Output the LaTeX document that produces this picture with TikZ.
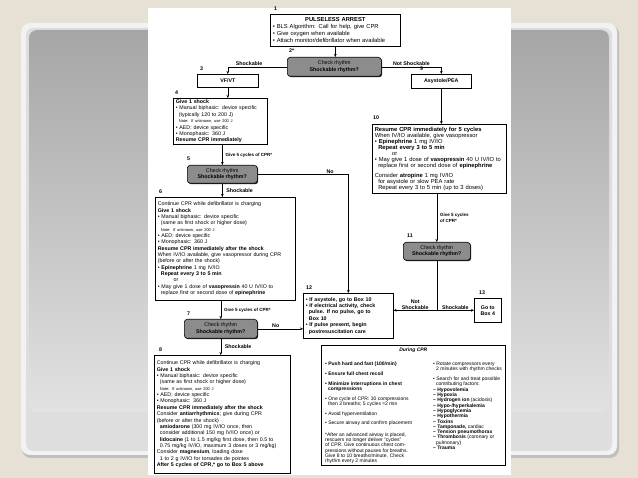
\documentclass[tikz,border=0pt]{standalone}
\usepackage{fontspec}
\setmainfont{Liberation Sans}
\usetikzlibrary{arrows.meta,shadows,calc}
\definecolor{beige}{RGB}{230,224,213}
\definecolor{gtop}{RGB}{166,166,166}
\definecolor{gbot}{RGB}{226,226,226}
\definecolor{band}{RGB}{222,222,222}
\definecolor{rhythm}{RGB}{140,140,140}
\newcommand\fsa{\fontsize{5.8}{7}\selectfont}
\newcommand\fsb{\fontsize{5.3}{6.35}\selectfont}
\newcommand\fsc{\fontsize{5.8}{6}\selectfont}
\newcommand\fsd{\fontsize{5}{5.3}\selectfont}
\newcommand\fsn{\fontsize{4}{5}\selectfont}
\newcommand\fsl{\fontsize{5.3}{6}\selectfont\bfseries}
\newcommand\fsg{\fontsize{4.5}{5.4}\selectfont\bfseries}
\newcommand\ind{\hspace*{0.6em}}
\begin{document}
\begin{tikzpicture}[x=1pt,y=-1pt,
  shad/.style={drop shadow={shadow xshift=0.9pt, shadow yshift=-0.9pt, opacity=1, fill=black!85}},
  flow/.style={draw, line width=0.6pt, fill=white, anchor=north west, inner xsep=2.5pt, inner ysep=1pt, shad},
  txt/.style={flow, align=left},
  ctr/.style={flow, align=center, font=\fsl},
  decision/.style={draw, line width=0.6pt, fill=rhythm, rounded corners=3pt, anchor=north west, align=center, inner sep=1pt, font=\fsb, shad},
  num/.style={font=\fsl, anchor=west, inner sep=0pt},
  lab/.style={font=\fsl, inner sep=0.8pt},
  glab/.style={font=\fsg, inner sep=0pt, anchor=west, align=left, xshift=3pt},
  ln/.style={line width=0.55pt},
  arr/.style={ln, -{Stealth[length=3pt,width=2.6pt]}}]
% slide background
\useasboundingbox (0,0) rectangle (638,478);
\fill[beige] (0,0) rectangle (638,478);
\fill[black!25, rounded corners=9pt] (22,25) rectangle (619,458);
\fill[white!95!black, rounded corners=9pt] (21,23) rectangle (617,455);
\fill[band, rounded corners=7pt] (26,28) rectangle (612,451);
\shade[top color=gtop, bottom color=gbot, rounded corners=8pt] (29,30) rectangle (609,412);
% page
\fill[white] (148,8) rectangle (511,475);

% boxes
\node[txt, font=\fsa, text width=125pt, minimum height=32pt] (b1) at (270,14)
 {\centerline{\textbf{PULSELESS ARREST}}
  • BLS Algorithm: Call for help, give CPR\\
  • Give oxygen when available\\
  • Attach monitor/defibrillator when available};
\node[decision, minimum width=94pt, minimum height=19pt] (b2) at (287,57)
 {Check rhythm\\\textbf{Shockable rhythm?}};
\node[ctr, minimum width=61pt, minimum height=13pt] (b3) at (197,74) {VF/VT};
\node[ctr, minimum width=60pt, minimum height=14pt] (b9) at (411,74) {Asystole/PEA};
\node[txt, font=\fsb, text width=89pt, minimum height=46pt] (b4) at (173,98)
 {\textbf{Give 1 shock}\\
  • Manual biphasic: device specific\\
  \ind(typically 120 to 200 J)\\
  \ind{\fsn Note: If unknown, use 200 J}\\
  • AED: device specific\\
  • Monophasic: 360 J\\
  \textbf{Resume CPR immediately}};
\node[decision, minimum width=70pt, minimum height=18pt] (b5) at (187,165)
 {Check rhythm\\\textbf{Shockable rhythm?}};
\node[txt, font=\fsb, text width=135pt, minimum height=103pt] (b6) at (155,197)
 {Continue CPR while defibrillator is charging\\
  \textbf{Give 1 shock}\\
  • Manual biphasic: device specific\\
  \ind(same as first shock or higher dose)\\
  \ind{\fsn Note: If unknown, use 200 J}\\
  • AED: device specific\\
  • Monophasic: 360 J\\
  \textbf{Resume CPR immediately after the shock}\\
  When IV/IO available, give vasopressor during CPR\\
  (before or after the shock)\\
  • \textbf{Epinephrine} 1 mg IV/IO\\
  \ind\textbf{Repeat every 3 to 5 min}\\
  \hspace*{3em}or\\
  • May give 1 dose of \textbf{vasopressin} 40 U IV/IO to\\
  \ind replace first or second dose of \textbf{epinephrine}};
\node[decision, minimum width=73pt, minimum height=19pt] (b7) at (184,319)
 {Check rhythm\\\textbf{Shockable rhythm?}};
\node[txt, font=\fsb, text width=131pt, minimum height=118pt] (b8) at (154,355)
 {Continue CPR while defibrillator is charging\\
  \textbf{Give 1 shock}\\
  • Manual biphasic: device specific\\
  \ind(same as first shock or higher dose)\\
  \ind{\fsn Note: If unknown, use 200 J}\\
  • AED: device specific\\
  • Monophasic: 360 J\\
  \textbf{Resume CPR immediately after the shock}\\
  Consider \textbf{antiarrhythmics}; give during CPR\\
  (before or after the shock)\\
  \ind\textbf{amiodarone} (300 mg IV/IO once, then\\
  \ind consider additional 150 mg IV/IO once) or\\
  \ind\textbf{lidocaine} (1 to 1.5 mg/kg first dose, then 0.5 to\\
  \ind 0.75 mg/kg IV/IO, maximum 3 doses or 3 mg/kg)\\
  Consider \textbf{magnesium}, loading dose\\
  \ind 1 to 2 g IV/IO for torsades de pointes\\
  \textbf{After 5 cycles of CPR,* go to Box 5 above}};
\node[txt, font=\fsc, text width=129pt, minimum height=69pt] (b10) at (372,124)
 {\textbf{Resume CPR immediately for 5 cycles}\\
  When IV/IO available, give vasopressor\\
  • \textbf{Epinephrine} 1 mg IV/IO\\
  \ind\textbf{Repeat every 3 to 5 min}\\
  \hspace*{3em}or\\
  • May give 1 dose of \textbf{vasopressin} 40 U IV/IO to\\
  \ind replace first or second dose of \textbf{epinephrine}\\[4pt]
  Consider \textbf{atropine} 1 mg IV/IO\\
  \ind for asystole or slow PEA rate\\
  \ind Repeat every 3 to 5 min (up to 3 doses)};
\node[decision, minimum width=67pt, minimum height=18pt] (b11) at (403,242)
 {Check rhythm\\\textbf{Shockable rhythm?}};
\node[txt, font=\fsb\bfseries, text width=85pt, minimum height=45pt] (b12) at (303,293)
 {• If asystole, go to Box 10\\
  • If electrical activity, check\\
  \ind pulse. If no pulse, go to\\
  \ind Box 10\\
  • If pulse present, begin\\
  \ind postresuscitation care};
\node[ctr, minimum width=27pt, minimum height=24pt] (b13) at (474,298) {Go to\\Box 4};

% During CPR
\node[flow, minimum width=184pt, minimum height=120pt] (dcpr) at (321,345) {};
\node[font=\fsd\bfseries\itshape, anchor=north, inner sep=0pt] (dtitle) at ($(dcpr.north)+(0,3)$) {During CPR};
\node[font=\fsd, anchor=north west, align=left, inner sep=0pt] (dleft) at (325,362)
 {\textbf{• Push hard and fast (100/min)}\\[4.4pt]
  \textbf{• Ensure full chest recoil}\\[4.4pt]
  \textbf{• Minimize interruptions in chest}\\
  \ind\textbf{compressions}\\[4.4pt]
  • One cycle of CPR: 30 compressions\\
  \ind then 2 breaths; 5 cycles ≈2 min\\[4.4pt]
  • Avoid hyperventilation\\[4.4pt]
  • Secure airway and confirm placement\\[6pt]
  *After an advanced airway is placed,\\
  rescuers no longer deliver “cycles”\\
  of CPR. Give continuous chest com-\\
  pressions without pauses for breaths.\\
  Give 8 to 10 breaths/minute. Check\\
  rhythm every 2 minutes};
\node[font=\fsd, anchor=north west, align=left, inner sep=0pt] (dright) at (433,362)
 {• Rotate compressors every\\
  \ind 2 minutes with rhythm checks\\[4.4pt]
  • Search for and treat possible\\
  \ind contributing factors:\\
  \textbf{– Hypovolemia}\\
  \textbf{– Hypoxia}\\
  \textbf{– Hydrogen ion} (acidosis)\\
  \textbf{– Hypo-/hyperkalemia}\\
  \textbf{– Hypoglycemia}\\
  \textbf{– Hypothermia}\\
  \textbf{– Toxins}\\
  \textbf{– Tamponade,} cardiac\\
  \textbf{– Tension pneumothorax}\\
  \textbf{– Thrombosis} (coronary or\\
  \ind pulmonary)\\
  \textbf{– Trauma}};

% box numbers
\node[num] (n1) at (274,9) {1};
\node[num] (n2) at (289,51) {2*};
\node[num] (n3) at (200,69) {3};
\node[num] (n9) at (420,69) {9};
\node[num] (n4) at (175,93) {4};
\node[num] (n5) at (187,159) {5};
\node[num] (n6) at (159,192) {6};
\node[num] (n7) at (187,314) {7};
\node[num] (n8) at (159,350) {8};
\node[num] (n10) at (373,118) {10};
\node[num] (n11) at (407,236) {11};
\node[num] (n12) at (306,288) {12};
\node[num] (n13) at (479,293) {13};

% connectors
\draw[arr] (b1.south) -- (b1.south |- b2.north);
\draw[arr] (b2.west) -| (b3.north) node[lab, pos=0.32, above] {Shockable};
\draw[arr] (b2.east) -| (b9.north) node[lab, pos=0.25, above] {Not Shockable};
\draw[arr] (b3.south) -- (b3.south |- b4.north);
\draw[arr] (b5.north |- b4.south) -- (b5.north) node[glab, pos=0.55] {Give 5 cycles of CPR*};
\draw[arr] (b5.east) -| (b12.north) node[lab, pos=0.4, above] {No};
\draw[arr] (b5.south) -- (b5.south |- b6.north) node[lab, anchor=west, pos=0.5, xshift=3pt] {Shockable};
\draw[arr] (b7.north |- b6.south) -- (b7.north) node[glab, pos=0.55] {Give 5 cycles of CPR*};
\draw[arr] (b7.east) -- (b7.east -| b12.west) node[lab, pos=0.4, above] {No};
\draw[arr] (b7.south) -- (b7.south |- b8.north) node[lab, anchor=west, pos=0.5, xshift=3pt] {Shockable};
\draw[arr] (b9.south) -- (b9.south |- b10.north);
\draw[arr] (b11.north |- b10.south) -- (b11.north) node[glab, pos=0.5] {Give 5 cycles\\of CPR*};
\coordinate (j) at (b11.south |- b13.west);
\draw[ln] (b11.south) -- (j);
\draw[arr] (j) -- (j -| b12.east) node[lab, pos=0.5, above, align=center] {Not\\Shockable};
\draw[arr] (j) -- (b13.west) node[lab, pos=0.5, above] {Shockable};
\end{tikzpicture}
\end{document}
